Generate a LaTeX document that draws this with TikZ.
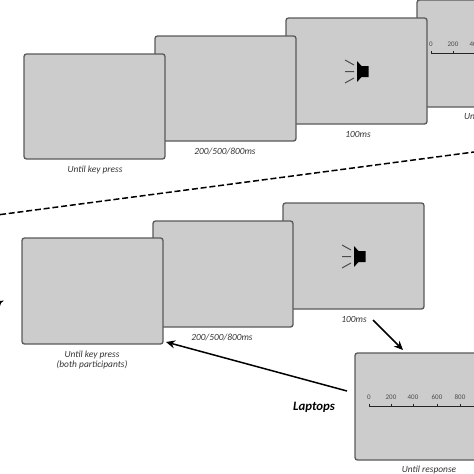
\documentclass[tikz,border=0pt]{standalone}
\usepackage{fontspec}
\setmainfont{Carlito}
\usetikzlibrary{arrows.meta}
\tikzset{
  x=1pt,y=-1pt,
  screen/.style={draw=black!65,line width=1.3pt,fill=black!20,rounded corners=2.5pt},
  lab/.style={font=\itshape\fontsize{9.4}{10.5}\selectfont,text=black!80,inner sep=0pt,align=center,anchor=center},
  num/.style={font=\fontsize{7}{8}\selectfont,text=black!70,inner sep=0pt,anchor=center},
  axisline/.style={draw=black!85,line width=.8pt},
  flow/.style={draw=black,line width=1.5pt,-{Stealth[length=9pt,width=8pt]}},
}
\newcommand{\speaker}[2]{%
  \begin{scope}[shift={(#1,#2)}]
    \fill (0,0) -- (4.5,5) -- (11.5,5) -- (11.5,16) -- (4.5,16) -- (0,21) -- cycle;
    \draw[line width=1pt,black!70] (-12,-1) -- (-3,4) (-12,10.5) -- (-3,10.5) (-12,22) -- (-3,17);
  \end{scope}}
\newcommand{\scalebar}[5]{% x0, axis y, label y, right end, tick list
  \draw[axisline] (#1,#2) -- (#4,#2);
  \foreach \dx/\t in {#5}{
    \draw[axisline] (#1+\dx,#2-2.5) -- (#1+\dx,#2);
    \node[num] at (#1+\dx,#3) {\t};
  }}
\begin{document}
\begin{tikzpicture}
\useasboundingbox (0,0) rectangle (474,474);
\clip (0,0) rectangle (474,474);
% top row
\draw[screen] (417,0) rectangle (490,107);
\scalebar{431}{53}{44}{480}{0/0,22/200,44/400}
\node[lab,anchor=west] (tr) at (464,117) {Until response};
\draw[screen] (286,18) rectangle (427,124);
\speaker{357}{61}
\draw[screen] (155,36) rectangle (296,141);
\draw[screen] (24,54) rectangle (165,159);
\node[lab] (t1) at (95,170) {Until key press};
\node[lab] (t2) at (225,151) {200/500/800ms};
\node[lab] (t3) at (358,134) {100ms};
% divider
\coordinate (dl) at (0,214.6);
\coordinate (dr) at (474,152);
\draw[line width=1.5pt,dash pattern=on 6pt off 2.8pt] (dl) -- (dr);
% bottom row
\draw[screen] (283,203) rectangle (424,309);
\speaker{354}{246}
\draw[screen] (153,221) rectangle (293,327);
\draw[screen] (22,238) rectangle (163,344);
\node[lab] (b1) at (92,360) {Until key press\\(both participants)};
\node[lab] (b2) at (222,337) {200/500/800ms};
\node[lab] (b3) at (354,319) {100ms};
\draw[screen] (355,353) rectangle (490,460);
\scalebar{369}{406}{397}{480}{0/0,22/200,44/400,68/600,91/800}
\node[lab] (b4) at (429,470) {Until response};
\node[font=\bfseries\itshape\fontsize{12.8}{14}\selectfont,inner sep=0pt] (lap) at (314,407) {Laptops};
\coordinate (a1s) at (373,320);
\coordinate (a1e) at (403,350);
\coordinate (a2s) at (347,391);
\coordinate (a2e) at (166,342);
\draw[flow] (a1s) -- (a1e);
\draw[flow] (a2s) -- (a2e);
\fill (0,301) -- (4,300.5) -- (1,303) -- (0,306) -- cycle;
\end{tikzpicture}
\end{document}
